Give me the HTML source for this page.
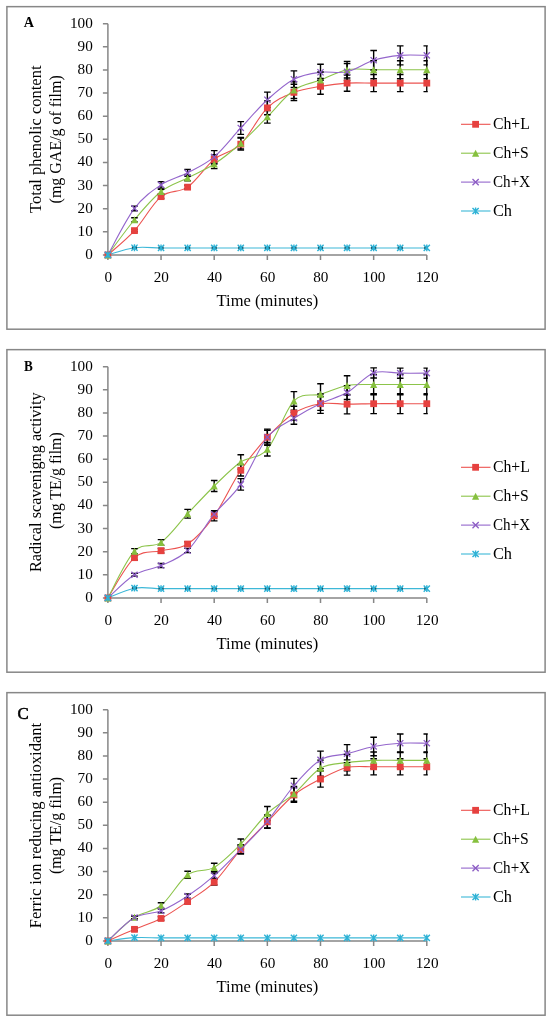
<!DOCTYPE html>
<html><head><meta charset="utf-8"><title>Antioxidant release charts</title>
<style>
html,body{margin:0;padding:0;background:#fff;}
body{width:550px;height:1020px;overflow:hidden;}
svg{display:block;}
text{font-family:"Liberation Serif",serif;fill:#000;}
svg{will-change:transform;}
</style></head><body>
<svg width="550" height="1020" viewBox="0 0 550 1020">
<defs><clipPath id="pc"><rect x="100" y="0" width="327.8" height="1020"/></clipPath></defs>

<g transform="translate(0,0)">
<rect x="6.9" y="6.65" width="538.2" height="322.55" fill="none" stroke="#878787" stroke-width="1.5"/>
<text x="23.76" y="26.8" font-size="15.15" textLength="10.24" lengthAdjust="spacingAndGlyphs" font-weight="bold">A</text>
<path d="M107.9,23.7 V254.9 M107.9,254.9 H426.8 M102.9,254.9 H107.9 M102.9,231.78 H107.9 M102.9,208.66 H107.9 M102.9,185.54 H107.9 M102.9,162.42 H107.9 M102.9,139.3 H107.9 M102.9,116.18 H107.9 M102.9,93.06 H107.9 M102.9,69.94 H107.9 M102.9,46.82 H107.9 M102.9,23.7 H107.9 M107.9,254.9 V259.9 M161.05,254.9 V259.9 M214.2,254.9 V259.9 M267.35,254.9 V259.9 M320.5,254.9 V259.9 M373.65,254.9 V259.9 M426.8,254.9 V259.9" stroke="#878787" stroke-width="1.5" fill="none"/>
<text x="92.8" y="258.9" font-size="15.2" text-anchor="end">0</text>
<text x="92.8" y="235.78" font-size="15.2" text-anchor="end">10</text>
<text x="92.8" y="212.66" font-size="15.2" text-anchor="end">20</text>
<text x="92.8" y="189.54" font-size="15.2" text-anchor="end">30</text>
<text x="92.8" y="166.42" font-size="15.2" text-anchor="end">40</text>
<text x="92.8" y="143.3" font-size="15.2" text-anchor="end">50</text>
<text x="92.8" y="120.18" font-size="15.2" text-anchor="end">60</text>
<text x="92.8" y="97.06" font-size="15.2" text-anchor="end">70</text>
<text x="92.8" y="73.94" font-size="15.2" text-anchor="end">80</text>
<text x="92.8" y="50.82" font-size="15.2" text-anchor="end">90</text>
<text x="92.8" y="27.7" font-size="15.2" text-anchor="end">100</text>
<text x="108.2" y="281.9" font-size="15.2" text-anchor="middle">0</text>
<text x="161.35" y="281.9" font-size="15.2" text-anchor="middle">20</text>
<text x="214.5" y="281.9" font-size="15.2" text-anchor="middle">40</text>
<text x="267.65" y="281.9" font-size="15.2" text-anchor="middle">60</text>
<text x="320.8" y="281.9" font-size="15.2" text-anchor="middle">80</text>
<text x="373.95" y="281.9" font-size="15.2" text-anchor="middle">100</text>
<text x="427.1" y="281.9" font-size="15.2" text-anchor="middle">120</text>
<text x="216.61" y="305.8" font-size="16.6" textLength="101.6" lengthAdjust="spacingAndGlyphs">Time (minutes)</text>
<text transform="translate(41.2,212.89) rotate(-90)" font-size="16.5" textLength="147.37" lengthAdjust="spacingAndGlyphs">Total phenolic content</text>
<text transform="translate(61.2,203.42) rotate(-90)" font-size="16.5" textLength="128.22" lengthAdjust="spacingAndGlyphs">(mg GAE/g of film)</text>
<path d="M107.9,254.9 C112.33,250.85 125.62,240.33 134.47,230.62 C143.33,220.91 152.19,203.88 161.05,196.64 C169.91,189.39 178.77,193.36 187.62,187.16 C196.48,180.95 205.34,166.58 214.2,159.41 C223.06,152.25 231.92,152.75 240.78,144.16 C249.63,135.56 258.49,116.49 267.35,107.86 C276.21,99.23 285.07,95.95 293.92,92.37 C302.78,88.78 311.64,87.9 320.5,86.36 C329.36,84.81 338.22,83.66 347.07,83.12 C355.93,82.58 364.79,83.12 373.65,83.12 C382.51,83.12 391.37,83.12 400.23,83.12 C409.08,83.12 422.37,83.12 426.8,83.12" stroke="#EC5350" stroke-width="1.1" fill="none"/>
<path d="M107.9,254.9 C112.33,249.04 125.62,230.32 134.47,219.76 C143.33,209.2 152.19,198.53 161.05,191.55 C169.91,184.58 178.77,182.5 187.62,177.91 C196.48,173.32 205.34,169.82 214.2,164.04 C223.06,158.26 231.92,151.09 240.78,143.23 C249.63,135.37 258.49,125.74 267.35,116.87 C276.21,108.01 285.07,96.18 293.92,90.05 C302.78,83.93 311.64,83.5 320.5,80.11 C329.36,76.72 338.22,71.44 347.07,69.71 C355.93,67.97 364.79,69.71 373.65,69.71 C382.51,69.71 391.37,69.71 400.23,69.71 C409.08,69.71 422.37,69.71 426.8,69.71" stroke="#8CC44A" stroke-width="1.1" fill="none"/>
<path d="M107.9,254.9 C112.33,247.15 125.62,220.1 134.47,208.43 C143.33,196.75 152.19,190.78 161.05,184.85 C169.91,178.91 178.77,177.49 187.62,172.82 C196.48,168.16 205.34,164.35 214.2,156.87 C223.06,149.4 231.92,137.49 240.78,127.97 C249.63,118.45 258.49,107.9 267.35,99.76 C276.21,91.63 285.07,83.77 293.92,79.19 C302.78,74.6 311.64,73.49 320.5,72.25 C329.36,71.02 338.22,73.79 347.07,71.79 C355.93,69.79 364.79,62.97 373.65,60.23 C382.51,57.49 391.37,56.18 400.23,55.37 C409.08,54.57 422.37,55.37 426.8,55.37" stroke="#9466CC" stroke-width="1.1" fill="none"/>
<path d="M107.9,254.9 C112.33,253.71 125.62,248.89 134.47,247.73 C143.33,246.58 152.19,247.93 161.05,247.96 C169.91,248 178.77,247.96 187.62,247.96 C196.48,247.96 205.34,247.96 214.2,247.96 C223.06,247.96 231.92,247.96 240.78,247.96 C249.63,247.96 258.49,247.96 267.35,247.96 C276.21,247.96 285.07,247.96 293.92,247.96 C302.78,247.96 311.64,247.96 320.5,247.96 C329.36,247.96 338.22,247.96 347.07,247.96 C355.93,247.96 364.79,247.96 373.65,247.96 C382.51,247.96 391.37,247.96 400.23,247.96 C409.08,247.96 422.37,247.96 426.8,247.96" stroke="#3DB8D8" stroke-width="1.1" fill="none"/>
<path d="M134.47,229.47 V231.78 M131.17,229.47 H137.78 M131.17,231.78 H137.78 M161.05,194.79 V198.49 M157.75,194.79 H164.35 M157.75,198.49 H164.35 M187.62,185.31 V189.01 M184.32,185.31 H190.93 M184.32,189.01 H190.93 M214.2,154.79 V164.04 M210.9,154.79 H217.5 M210.9,164.04 H217.5 M240.78,138.14 V150.17 M237.47,138.14 H244.08 M237.47,150.17 H244.08 M267.35,100.92 V114.79 M264.05,100.92 H270.65 M264.05,114.79 H270.65 M293.92,84.27 V100.46 M290.62,84.27 H297.22 M290.62,100.46 H297.22 M320.5,78.49 V94.22 M317.2,78.49 H323.8 M317.2,94.22 H323.8 M347.07,75.03 V91.21 M343.77,75.03 H350.38 M343.77,91.21 H350.38 M373.65,74.56 V91.67 M370.35,74.56 H376.95 M370.35,91.67 H376.95 M400.23,74.56 V91.67 M396.93,74.56 H403.53 M396.93,91.67 H403.53 M426.8,74.56 V91.67 M423.5,74.56 H430.1 M423.5,91.67 H430.1" stroke="#000" stroke-width="1.4" fill="none" clip-path="url(#pc)"/>
<path d="M134.47,217.68 V221.84 M131.17,217.68 H137.78 M131.17,221.84 H137.78 M161.05,189.24 V193.86 M157.75,189.24 H164.35 M157.75,193.86 H164.35 M187.62,175.14 V180.68 M184.32,175.14 H190.93 M184.32,180.68 H190.93 M214.2,159.41 V168.66 M210.9,159.41 H217.5 M210.9,168.66 H217.5 M240.78,137.45 V149.01 M237.47,137.45 H244.08 M237.47,149.01 H244.08 M267.35,110.63 V123.12 M264.05,110.63 H270.65 M264.05,123.12 H270.65 M293.92,81.73 V98.38 M290.62,81.73 H297.22 M290.62,98.38 H297.22 M320.5,72.02 V88.2 M317.2,72.02 H323.8 M317.2,88.2 H323.8 M347.07,61.39 V78.03 M343.77,61.39 H350.38 M343.77,78.03 H350.38 M373.65,60.69 V78.73 M370.35,60.69 H376.95 M370.35,78.73 H376.95 M400.23,60.69 V78.73 M396.93,60.69 H403.53 M396.93,78.73 H403.53 M426.8,60.69 V78.73 M423.5,60.69 H430.1 M423.5,78.73 H430.1" stroke="#000" stroke-width="1.4" fill="none" clip-path="url(#pc)"/>
<path d="M134.47,206.12 V210.74 M131.17,206.12 H137.78 M131.17,210.74 H137.78 M161.05,181.61 V188.08 M157.75,181.61 H164.35 M157.75,188.08 H164.35 M187.62,169.36 V176.29 M184.32,169.36 H190.93 M184.32,176.29 H190.93 M214.2,150.63 V163.11 M210.9,150.63 H217.5 M210.9,163.11 H217.5 M240.78,121.61 V134.33 M237.47,121.61 H244.08 M237.47,134.33 H244.08 M267.35,92.14 V107.39 M264.05,92.14 H270.65 M264.05,107.39 H270.65 M293.92,70.86 V87.51 M290.62,70.86 H297.22 M290.62,87.51 H297.22 M320.5,64.28 V80.23 M317.2,64.28 H323.8 M317.2,80.23 H323.8 M347.07,63.47 V80.11 M343.77,63.47 H350.38 M343.77,80.11 H350.38 M373.65,50.52 V69.94 M370.35,50.52 H376.95 M370.35,69.94 H376.95 M400.23,45.9 V64.85 M396.93,45.9 H403.53 M396.93,64.85 H403.53 M426.8,45.9 V64.85 M423.5,45.9 H430.1 M423.5,64.85 H430.1" stroke="#000" stroke-width="1.4" fill="none" clip-path="url(#pc)"/>
<path d="M134.47,247.04 V248.43 M131.88,247.04 H137.07 M131.88,248.43 H137.07 M161.05,247.27 V248.66 M158.45,247.27 H163.65 M158.45,248.66 H163.65 M187.62,247.27 V248.66 M185.03,247.27 H190.22 M185.03,248.66 H190.22 M214.2,247.27 V248.66 M211.6,247.27 H216.8 M211.6,248.66 H216.8 M240.78,247.27 V248.66 M238.18,247.27 H243.38 M238.18,248.66 H243.38 M267.35,247.27 V248.66 M264.75,247.27 H269.95 M264.75,248.66 H269.95 M293.92,247.27 V248.66 M291.32,247.27 H296.52 M291.32,248.66 H296.52 M320.5,247.27 V248.66 M317.9,247.27 H323.1 M317.9,248.66 H323.1 M347.07,247.27 V248.66 M344.47,247.27 H349.68 M344.47,248.66 H349.68 M373.65,247.27 V248.66 M371.05,247.27 H376.25 M371.05,248.66 H376.25 M400.23,247.27 V248.66 M397.62,247.27 H402.83 M397.62,248.66 H402.83 M426.8,247.27 V248.66 M424.2,247.27 H429.4 M424.2,248.66 H429.4" stroke="#1d5566" stroke-width="1.4" fill="none" clip-path="url(#pc)"/>
<rect x="104.5" y="251.5" width="6.8" height="6.8" fill="#E6413F"/>
<rect x="131.07" y="227.22" width="6.8" height="6.8" fill="#E6413F"/>
<rect x="157.65" y="193.24" width="6.8" height="6.8" fill="#E6413F"/>
<rect x="184.22" y="183.76" width="6.8" height="6.8" fill="#E6413F"/>
<rect x="210.8" y="156.01" width="6.8" height="6.8" fill="#E6413F"/>
<rect x="237.38" y="140.76" width="6.8" height="6.8" fill="#E6413F"/>
<rect x="263.95" y="104.46" width="6.8" height="6.8" fill="#E6413F"/>
<rect x="290.52" y="88.97" width="6.8" height="6.8" fill="#E6413F"/>
<rect x="317.1" y="82.96" width="6.8" height="6.8" fill="#E6413F"/>
<rect x="343.68" y="79.72" width="6.8" height="6.8" fill="#E6413F"/>
<rect x="370.25" y="79.72" width="6.8" height="6.8" fill="#E6413F"/>
<rect x="396.83" y="79.72" width="6.8" height="6.8" fill="#E6413F"/>
<rect x="423.4" y="79.72" width="6.8" height="6.8" fill="#E6413F"/>
<path d="M107.9,251.4 L111.5,258.4 L104.3,258.4 Z" fill="#86C03E"/>
<path d="M134.47,216.26 L138.07,223.26 L130.88,223.26 Z" fill="#86C03E"/>
<path d="M161.05,188.05 L164.65,195.05 L157.45,195.05 Z" fill="#86C03E"/>
<path d="M187.62,174.41 L191.22,181.41 L184.03,181.41 Z" fill="#86C03E"/>
<path d="M214.2,160.54 L217.8,167.54 L210.6,167.54 Z" fill="#86C03E"/>
<path d="M240.78,139.73 L244.38,146.73 L237.18,146.73 Z" fill="#86C03E"/>
<path d="M267.35,113.37 L270.95,120.37 L263.75,120.37 Z" fill="#86C03E"/>
<path d="M293.92,86.55 L297.52,93.55 L290.32,93.55 Z" fill="#86C03E"/>
<path d="M320.5,76.61 L324.1,83.61 L316.9,83.61 Z" fill="#86C03E"/>
<path d="M347.07,66.21 L350.68,73.21 L343.47,73.21 Z" fill="#86C03E"/>
<path d="M373.65,66.21 L377.25,73.21 L370.05,73.21 Z" fill="#86C03E"/>
<path d="M400.23,66.21 L403.83,73.21 L396.62,73.21 Z" fill="#86C03E"/>
<path d="M426.8,66.21 L430.4,73.21 L423.2,73.21 Z" fill="#86C03E"/>
<path d="M104.8,251.8 L111,258 M104.8,258 L111,251.8" stroke="#8C5CC4" stroke-width="1.3" fill="none"/>
<path d="M131.38,205.33 L137.57,211.53 M131.38,211.53 L137.57,205.33" stroke="#8C5CC4" stroke-width="1.3" fill="none"/>
<path d="M157.95,181.75 L164.15,187.95 M157.95,187.95 L164.15,181.75" stroke="#8C5CC4" stroke-width="1.3" fill="none"/>
<path d="M184.53,169.72 L190.72,175.92 M184.53,175.92 L190.72,169.72" stroke="#8C5CC4" stroke-width="1.3" fill="none"/>
<path d="M211.1,153.77 L217.3,159.97 M211.1,159.97 L217.3,153.77" stroke="#8C5CC4" stroke-width="1.3" fill="none"/>
<path d="M237.68,124.87 L243.88,131.07 M237.68,131.07 L243.88,124.87" stroke="#8C5CC4" stroke-width="1.3" fill="none"/>
<path d="M264.25,96.66 L270.45,102.86 M264.25,102.86 L270.45,96.66" stroke="#8C5CC4" stroke-width="1.3" fill="none"/>
<path d="M290.82,76.09 L297.02,82.29 M290.82,82.29 L297.02,76.09" stroke="#8C5CC4" stroke-width="1.3" fill="none"/>
<path d="M317.4,69.15 L323.6,75.35 M317.4,75.35 L323.6,69.15" stroke="#8C5CC4" stroke-width="1.3" fill="none"/>
<path d="M343.97,68.69 L350.18,74.89 M343.97,74.89 L350.18,68.69" stroke="#8C5CC4" stroke-width="1.3" fill="none"/>
<path d="M370.55,57.13 L376.75,63.33 M370.55,63.33 L376.75,57.13" stroke="#8C5CC4" stroke-width="1.3" fill="none"/>
<path d="M397.12,52.27 L403.33,58.47 M397.12,58.47 L403.33,52.27" stroke="#8C5CC4" stroke-width="1.3" fill="none"/>
<path d="M423.7,52.27 L429.9,58.47 M423.7,58.47 L429.9,52.27" stroke="#8C5CC4" stroke-width="1.3" fill="none"/>
<path d="M104.8,251.8 L111,258 M104.8,258 L111,251.8 M107.9,251.5 L107.9,258.3" stroke="#2DB2D6" stroke-width="1.4" fill="none"/>
<path d="M131.38,244.63 L137.57,250.83 M131.38,250.83 L137.57,244.63 M134.47,244.33 L134.47,251.13" stroke="#2DB2D6" stroke-width="1.4" fill="none"/>
<path d="M157.95,244.86 L164.15,251.06 M157.95,251.06 L164.15,244.86 M161.05,244.56 L161.05,251.36" stroke="#2DB2D6" stroke-width="1.4" fill="none"/>
<path d="M184.53,244.86 L190.72,251.06 M184.53,251.06 L190.72,244.86 M187.62,244.56 L187.62,251.36" stroke="#2DB2D6" stroke-width="1.4" fill="none"/>
<path d="M211.1,244.86 L217.3,251.06 M211.1,251.06 L217.3,244.86 M214.2,244.56 L214.2,251.36" stroke="#2DB2D6" stroke-width="1.4" fill="none"/>
<path d="M237.68,244.86 L243.88,251.06 M237.68,251.06 L243.88,244.86 M240.78,244.56 L240.78,251.36" stroke="#2DB2D6" stroke-width="1.4" fill="none"/>
<path d="M264.25,244.86 L270.45,251.06 M264.25,251.06 L270.45,244.86 M267.35,244.56 L267.35,251.36" stroke="#2DB2D6" stroke-width="1.4" fill="none"/>
<path d="M290.82,244.86 L297.02,251.06 M290.82,251.06 L297.02,244.86 M293.92,244.56 L293.92,251.36" stroke="#2DB2D6" stroke-width="1.4" fill="none"/>
<path d="M317.4,244.86 L323.6,251.06 M317.4,251.06 L323.6,244.86 M320.5,244.56 L320.5,251.36" stroke="#2DB2D6" stroke-width="1.4" fill="none"/>
<path d="M343.97,244.86 L350.18,251.06 M343.97,251.06 L350.18,244.86 M347.07,244.56 L347.07,251.36" stroke="#2DB2D6" stroke-width="1.4" fill="none"/>
<path d="M370.55,244.86 L376.75,251.06 M370.55,251.06 L376.75,244.86 M373.65,244.56 L373.65,251.36" stroke="#2DB2D6" stroke-width="1.4" fill="none"/>
<path d="M397.12,244.86 L403.33,251.06 M397.12,251.06 L403.33,244.86 M400.23,244.56 L400.23,251.36" stroke="#2DB2D6" stroke-width="1.4" fill="none"/>
<path d="M423.7,244.86 L429.9,251.06 M423.7,251.06 L429.9,244.86 M426.8,244.56 L426.8,251.36" stroke="#2DB2D6" stroke-width="1.4" fill="none"/>
<path d="M461,124.3 H490.5" stroke="#EC5350" stroke-width="1.1"/>
<rect x="472.2" y="120.9" width="6.8" height="6.8" fill="#E6413F"/>
<text x="492.97" y="128.8" font-size="16" textLength="36.8" lengthAdjust="spacingAndGlyphs">Ch+L</text>
<path d="M461,153.2 H490.5" stroke="#8CC44A" stroke-width="1.1"/>
<path d="M475.6,149.7 L479.2,156.7 L472,156.7 Z" fill="#86C03E"/>
<text x="492.97" y="157.7" font-size="16" textLength="35.8" lengthAdjust="spacingAndGlyphs">Ch+S</text>
<path d="M461,182.1 H490.5" stroke="#9466CC" stroke-width="1.1"/>
<path d="M472.5,179 L478.7,185.2 M472.5,185.2 L478.7,179" stroke="#8C5CC4" stroke-width="1.3" fill="none"/>
<text x="493" y="186.6" font-size="16" textLength="37.08" lengthAdjust="spacingAndGlyphs">Ch+X</text>
<path d="M461,211 H490.5" stroke="#3DB8D8" stroke-width="1.1"/>
<path d="M472.5,207.9 L478.7,214.1 M472.5,214.1 L478.7,207.9 M475.6,207.6 L475.6,214.4" stroke="#2DB2D6" stroke-width="1.4" fill="none"/>
<text x="492.95" y="215.5" font-size="16" textLength="19.05" lengthAdjust="spacingAndGlyphs">Ch</text>
</g>
<g transform="translate(0,343)">
<rect x="6.9" y="6.65" width="538.2" height="322.55" fill="none" stroke="#878787" stroke-width="1.5"/>
<text x="23.97" y="27.5" font-size="15.45" textLength="8.79" lengthAdjust="spacingAndGlyphs" font-weight="bold">B</text>
<path d="M107.9,23.7 V254.9 M107.9,254.9 H426.8 M102.9,254.9 H107.9 M102.9,231.78 H107.9 M102.9,208.66 H107.9 M102.9,185.54 H107.9 M102.9,162.42 H107.9 M102.9,139.3 H107.9 M102.9,116.18 H107.9 M102.9,93.06 H107.9 M102.9,69.94 H107.9 M102.9,46.82 H107.9 M102.9,23.7 H107.9 M107.9,254.9 V259.9 M161.05,254.9 V259.9 M214.2,254.9 V259.9 M267.35,254.9 V259.9 M320.5,254.9 V259.9 M373.65,254.9 V259.9 M426.8,254.9 V259.9" stroke="#878787" stroke-width="1.5" fill="none"/>
<text x="92.8" y="258.9" font-size="15.2" text-anchor="end">0</text>
<text x="92.8" y="235.78" font-size="15.2" text-anchor="end">10</text>
<text x="92.8" y="212.66" font-size="15.2" text-anchor="end">20</text>
<text x="92.8" y="189.54" font-size="15.2" text-anchor="end">30</text>
<text x="92.8" y="166.42" font-size="15.2" text-anchor="end">40</text>
<text x="92.8" y="143.3" font-size="15.2" text-anchor="end">50</text>
<text x="92.8" y="120.18" font-size="15.2" text-anchor="end">60</text>
<text x="92.8" y="97.06" font-size="15.2" text-anchor="end">70</text>
<text x="92.8" y="73.94" font-size="15.2" text-anchor="end">80</text>
<text x="92.8" y="50.82" font-size="15.2" text-anchor="end">90</text>
<text x="92.8" y="27.7" font-size="15.2" text-anchor="end">100</text>
<text x="108.2" y="281.9" font-size="15.2" text-anchor="middle">0</text>
<text x="161.35" y="281.9" font-size="15.2" text-anchor="middle">20</text>
<text x="214.5" y="281.9" font-size="15.2" text-anchor="middle">40</text>
<text x="267.65" y="281.9" font-size="15.2" text-anchor="middle">60</text>
<text x="320.8" y="281.9" font-size="15.2" text-anchor="middle">80</text>
<text x="373.95" y="281.9" font-size="15.2" text-anchor="middle">100</text>
<text x="427.1" y="281.9" font-size="15.2" text-anchor="middle">120</text>
<text x="216.61" y="305.8" font-size="16.6" textLength="101.6" lengthAdjust="spacingAndGlyphs">Time (minutes)</text>
<text transform="translate(41.2,229.09) rotate(-90)" font-size="16.5" textLength="179.76" lengthAdjust="spacingAndGlyphs">Radical scavenigng activity</text>
<text transform="translate(61.2,185.91) rotate(-90)" font-size="16.5" textLength="96.58" lengthAdjust="spacingAndGlyphs">(mg TE/g film)</text>
<path d="M107.9,254.9 C112.33,248.2 125.62,222.53 134.47,214.67 C143.33,206.81 152.19,210.01 161.05,207.74 C169.91,205.46 178.77,206.85 187.62,201.03 C196.48,195.21 205.34,185.12 214.2,172.82 C223.06,160.53 231.92,140.38 240.78,127.28 C249.63,114.18 258.49,103.73 267.35,94.22 C276.21,84.7 285.07,75.76 293.92,70.17 C302.78,64.58 311.64,62.19 320.5,60.69 C329.36,59.19 338.22,61.15 347.07,61.15 C355.93,61.15 364.79,60.77 373.65,60.69 C382.51,60.61 391.37,60.69 400.23,60.69 C409.08,60.69 422.37,60.69 426.8,60.69" stroke="#EC5350" stroke-width="1.1" fill="none"/>
<path d="M107.9,254.9 C112.33,247.12 125.62,217.45 134.47,208.2 C143.33,198.95 152.19,205.65 161.05,199.41 C169.91,193.17 178.77,180.15 187.62,170.74 C196.48,161.34 205.34,151.63 214.2,143 C223.06,134.37 231.92,125.08 240.78,118.95 C249.63,112.83 258.49,116.41 267.35,106.24 C276.21,96.07 285.07,67.09 293.92,57.92 C302.78,48.75 311.64,53.79 320.5,51.21 C329.36,48.63 338.22,44.05 347.07,42.43 C355.93,40.81 364.79,41.66 373.65,41.5 C382.51,41.35 391.37,41.5 400.23,41.5 C409.08,41.5 422.37,41.5 426.8,41.5" stroke="#8CC44A" stroke-width="1.1" fill="none"/>
<path d="M107.9,254.9 C112.33,251.05 125.62,237.17 134.47,231.78 C143.33,226.39 152.19,226.58 161.05,222.53 C169.91,218.49 178.77,216.06 187.62,207.5 C196.48,198.95 205.34,182.23 214.2,171.21 C223.06,160.19 231.92,154.21 240.78,141.38 C249.63,128.55 258.49,105.24 267.35,94.22 C276.21,83.2 285.07,80.88 293.92,75.26 C302.78,69.63 311.64,64.74 320.5,60.46 C329.36,56.18 338.22,54.68 347.07,49.59 C355.93,44.51 364.79,33.18 373.65,29.94 C382.51,26.71 391.37,30.14 400.23,30.17 C409.08,30.21 422.37,30.17 426.8,30.17" stroke="#9466CC" stroke-width="1.1" fill="none"/>
<path d="M107.9,254.9 C112.33,253.28 125.62,246.73 134.47,245.19 C143.33,243.65 152.19,245.57 161.05,245.65 C169.91,245.73 178.77,245.65 187.62,245.65 C196.48,245.65 205.34,245.65 214.2,245.65 C223.06,245.65 231.92,245.65 240.78,245.65 C249.63,245.65 258.49,245.65 267.35,245.65 C276.21,245.65 285.07,245.65 293.92,245.65 C302.78,245.65 311.64,245.65 320.5,245.65 C329.36,245.65 338.22,245.65 347.07,245.65 C355.93,245.65 364.79,245.65 373.65,245.65 C382.51,245.65 391.37,245.65 400.23,245.65 C409.08,245.65 422.37,245.65 426.8,245.65" stroke="#3DB8D8" stroke-width="1.1" fill="none"/>
<path d="M134.47,212.36 V216.98 M131.17,212.36 H137.78 M131.17,216.98 H137.78 M161.05,205.42 V210.05 M157.75,205.42 H164.35 M157.75,210.05 H164.35 M187.62,198.72 V203.34 M184.32,198.72 H190.93 M184.32,203.34 H190.93 M214.2,167.74 V177.91 M210.9,167.74 H217.5 M210.9,177.91 H217.5 M240.78,121.5 V133.06 M237.47,121.5 H244.08 M237.47,133.06 H244.08 M267.35,86.12 V102.31 M264.05,86.12 H270.65 M264.05,102.31 H270.65 M293.92,63.24 V77.11 M290.62,63.24 H297.22 M290.62,77.11 H297.22 M320.5,50.98 V70.4 M317.2,50.98 H323.8 M317.2,70.4 H323.8 M347.07,51.44 V70.86 M343.77,51.44 H350.38 M343.77,70.86 H350.38 M373.65,50.75 V70.63 M370.35,50.75 H376.95 M370.35,70.63 H376.95 M400.23,50.75 V70.63 M396.93,50.75 H403.53 M396.93,70.63 H403.53 M426.8,50.75 V70.63 M423.5,50.75 H430.1 M423.5,70.63 H430.1" stroke="#000" stroke-width="1.4" fill="none" clip-path="url(#pc)"/>
<path d="M134.47,205.65 V210.74 M131.17,205.65 H137.78 M131.17,210.74 H137.78 M161.05,196.64 V202.19 M157.75,196.64 H164.35 M157.75,202.19 H164.35 M187.62,166.35 V175.14 M184.32,166.35 H190.93 M184.32,175.14 H190.93 M214.2,137.45 V148.55 M210.9,137.45 H217.5 M210.9,148.55 H217.5 M240.78,111.79 V126.12 M237.47,111.79 H244.08 M237.47,126.12 H244.08 M267.35,99.53 V112.94 M264.05,99.53 H270.65 M264.05,112.94 H270.65 M293.92,48.67 V67.17 M290.62,48.67 H297.22 M290.62,67.17 H297.22 M320.5,40.81 V61.62 M317.2,40.81 H323.8 M317.2,61.62 H323.8 M347.07,32.72 V52.14 M343.77,32.72 H350.38 M343.77,52.14 H350.38 M373.65,31.33 V51.68 M370.35,31.33 H376.95 M370.35,51.68 H376.95 M400.23,31.33 V51.68 M396.93,31.33 H403.53 M396.93,51.68 H403.53 M426.8,31.33 V51.68 M423.5,31.33 H430.1 M423.5,51.68 H430.1" stroke="#000" stroke-width="1.4" fill="none" clip-path="url(#pc)"/>
<path d="M134.47,230.39 V233.17 M131.17,230.39 H137.78 M131.17,233.17 H137.78 M161.05,220.45 V224.61 M157.75,220.45 H164.35 M157.75,224.61 H164.35 M187.62,205.42 V209.58 M184.32,205.42 H190.93 M184.32,209.58 H190.93 M214.2,168.89 V173.52 M210.9,168.89 H217.5 M210.9,173.52 H217.5 M240.78,135.6 V147.16 M237.47,135.6 H244.08 M237.47,147.16 H244.08 M267.35,87.28 V101.15 M264.05,87.28 H270.65 M264.05,101.15 H270.65 M293.92,69.25 V81.27 M290.62,69.25 H297.22 M290.62,81.27 H297.22 M320.5,53.52 V67.4 M317.2,53.52 H323.8 M317.2,67.4 H323.8 M347.07,42.66 V56.53 M343.77,42.66 H350.38 M343.77,56.53 H350.38 M373.65,24.86 V35.03 M370.35,24.86 H376.95 M370.35,35.03 H376.95 M400.23,25.09 V35.26 M396.93,25.09 H403.53 M396.93,35.26 H403.53 M426.8,25.09 V35.26 M423.5,25.09 H430.1 M423.5,35.26 H430.1" stroke="#000" stroke-width="1.4" fill="none" clip-path="url(#pc)"/>
<path d="M134.47,244.5 V245.88 M131.88,244.5 H137.07 M131.88,245.88 H137.07 M161.05,244.96 V246.35 M158.45,244.96 H163.65 M158.45,246.35 H163.65 M187.62,244.96 V246.35 M185.03,244.96 H190.22 M185.03,246.35 H190.22 M214.2,244.96 V246.35 M211.6,244.96 H216.8 M211.6,246.35 H216.8 M240.78,244.96 V246.35 M238.18,244.96 H243.38 M238.18,246.35 H243.38 M267.35,244.96 V246.35 M264.75,244.96 H269.95 M264.75,246.35 H269.95 M293.92,244.96 V246.35 M291.32,244.96 H296.52 M291.32,246.35 H296.52 M320.5,244.96 V246.35 M317.9,244.96 H323.1 M317.9,246.35 H323.1 M347.07,244.96 V246.35 M344.47,244.96 H349.68 M344.47,246.35 H349.68 M373.65,244.96 V246.35 M371.05,244.96 H376.25 M371.05,246.35 H376.25 M400.23,244.96 V246.35 M397.62,244.96 H402.83 M397.62,246.35 H402.83 M426.8,244.96 V246.35 M424.2,244.96 H429.4 M424.2,246.35 H429.4" stroke="#1d5566" stroke-width="1.4" fill="none" clip-path="url(#pc)"/>
<rect x="104.5" y="251.5" width="6.8" height="6.8" fill="#E6413F"/>
<rect x="131.07" y="211.27" width="6.8" height="6.8" fill="#E6413F"/>
<rect x="157.65" y="204.34" width="6.8" height="6.8" fill="#E6413F"/>
<rect x="184.22" y="197.63" width="6.8" height="6.8" fill="#E6413F"/>
<rect x="210.8" y="169.42" width="6.8" height="6.8" fill="#E6413F"/>
<rect x="237.38" y="123.88" width="6.8" height="6.8" fill="#E6413F"/>
<rect x="263.95" y="90.82" width="6.8" height="6.8" fill="#E6413F"/>
<rect x="290.52" y="66.77" width="6.8" height="6.8" fill="#E6413F"/>
<rect x="317.1" y="57.29" width="6.8" height="6.8" fill="#E6413F"/>
<rect x="343.68" y="57.75" width="6.8" height="6.8" fill="#E6413F"/>
<rect x="370.25" y="57.29" width="6.8" height="6.8" fill="#E6413F"/>
<rect x="396.83" y="57.29" width="6.8" height="6.8" fill="#E6413F"/>
<rect x="423.4" y="57.29" width="6.8" height="6.8" fill="#E6413F"/>
<path d="M107.9,251.4 L111.5,258.4 L104.3,258.4 Z" fill="#86C03E"/>
<path d="M134.47,204.7 L138.07,211.7 L130.88,211.7 Z" fill="#86C03E"/>
<path d="M161.05,195.91 L164.65,202.91 L157.45,202.91 Z" fill="#86C03E"/>
<path d="M187.62,167.24 L191.22,174.24 L184.03,174.24 Z" fill="#86C03E"/>
<path d="M214.2,139.5 L217.8,146.5 L210.6,146.5 Z" fill="#86C03E"/>
<path d="M240.78,115.45 L244.38,122.45 L237.18,122.45 Z" fill="#86C03E"/>
<path d="M267.35,102.74 L270.95,109.74 L263.75,109.74 Z" fill="#86C03E"/>
<path d="M293.92,54.42 L297.52,61.42 L290.32,61.42 Z" fill="#86C03E"/>
<path d="M320.5,47.71 L324.1,54.71 L316.9,54.71 Z" fill="#86C03E"/>
<path d="M347.07,38.93 L350.68,45.93 L343.47,45.93 Z" fill="#86C03E"/>
<path d="M373.65,38 L377.25,45 L370.05,45 Z" fill="#86C03E"/>
<path d="M400.23,38 L403.83,45 L396.62,45 Z" fill="#86C03E"/>
<path d="M426.8,38 L430.4,45 L423.2,45 Z" fill="#86C03E"/>
<path d="M104.8,251.8 L111,258 M104.8,258 L111,251.8" stroke="#8C5CC4" stroke-width="1.3" fill="none"/>
<path d="M131.38,228.68 L137.57,234.88 M131.38,234.88 L137.57,228.68" stroke="#8C5CC4" stroke-width="1.3" fill="none"/>
<path d="M157.95,219.43 L164.15,225.63 M157.95,225.63 L164.15,219.43" stroke="#8C5CC4" stroke-width="1.3" fill="none"/>
<path d="M184.53,204.4 L190.72,210.6 M184.53,210.6 L190.72,204.4" stroke="#8C5CC4" stroke-width="1.3" fill="none"/>
<path d="M211.1,168.11 L217.3,174.31 M211.1,174.31 L217.3,168.11" stroke="#8C5CC4" stroke-width="1.3" fill="none"/>
<path d="M237.68,138.28 L243.88,144.48 M237.68,144.48 L243.88,138.28" stroke="#8C5CC4" stroke-width="1.3" fill="none"/>
<path d="M264.25,91.12 L270.45,97.32 M264.25,97.32 L270.45,91.12" stroke="#8C5CC4" stroke-width="1.3" fill="none"/>
<path d="M290.82,72.16 L297.02,78.36 M290.82,78.36 L297.02,72.16" stroke="#8C5CC4" stroke-width="1.3" fill="none"/>
<path d="M317.4,57.36 L323.6,63.56 M317.4,63.56 L323.6,57.36" stroke="#8C5CC4" stroke-width="1.3" fill="none"/>
<path d="M343.97,46.49 L350.18,52.69 M343.97,52.69 L350.18,46.49" stroke="#8C5CC4" stroke-width="1.3" fill="none"/>
<path d="M370.55,26.84 L376.75,33.04 M370.55,33.04 L376.75,26.84" stroke="#8C5CC4" stroke-width="1.3" fill="none"/>
<path d="M397.12,27.07 L403.33,33.27 M397.12,33.27 L403.33,27.07" stroke="#8C5CC4" stroke-width="1.3" fill="none"/>
<path d="M423.7,27.07 L429.9,33.27 M423.7,33.27 L429.9,27.07" stroke="#8C5CC4" stroke-width="1.3" fill="none"/>
<path d="M104.8,251.8 L111,258 M104.8,258 L111,251.8 M107.9,251.5 L107.9,258.3" stroke="#2DB2D6" stroke-width="1.4" fill="none"/>
<path d="M131.38,242.09 L137.57,248.29 M131.38,248.29 L137.57,242.09 M134.47,241.79 L134.47,248.59" stroke="#2DB2D6" stroke-width="1.4" fill="none"/>
<path d="M157.95,242.55 L164.15,248.75 M157.95,248.75 L164.15,242.55 M161.05,242.25 L161.05,249.05" stroke="#2DB2D6" stroke-width="1.4" fill="none"/>
<path d="M184.53,242.55 L190.72,248.75 M184.53,248.75 L190.72,242.55 M187.62,242.25 L187.62,249.05" stroke="#2DB2D6" stroke-width="1.4" fill="none"/>
<path d="M211.1,242.55 L217.3,248.75 M211.1,248.75 L217.3,242.55 M214.2,242.25 L214.2,249.05" stroke="#2DB2D6" stroke-width="1.4" fill="none"/>
<path d="M237.68,242.55 L243.88,248.75 M237.68,248.75 L243.88,242.55 M240.78,242.25 L240.78,249.05" stroke="#2DB2D6" stroke-width="1.4" fill="none"/>
<path d="M264.25,242.55 L270.45,248.75 M264.25,248.75 L270.45,242.55 M267.35,242.25 L267.35,249.05" stroke="#2DB2D6" stroke-width="1.4" fill="none"/>
<path d="M290.82,242.55 L297.02,248.75 M290.82,248.75 L297.02,242.55 M293.92,242.25 L293.92,249.05" stroke="#2DB2D6" stroke-width="1.4" fill="none"/>
<path d="M317.4,242.55 L323.6,248.75 M317.4,248.75 L323.6,242.55 M320.5,242.25 L320.5,249.05" stroke="#2DB2D6" stroke-width="1.4" fill="none"/>
<path d="M343.97,242.55 L350.18,248.75 M343.97,248.75 L350.18,242.55 M347.07,242.25 L347.07,249.05" stroke="#2DB2D6" stroke-width="1.4" fill="none"/>
<path d="M370.55,242.55 L376.75,248.75 M370.55,248.75 L376.75,242.55 M373.65,242.25 L373.65,249.05" stroke="#2DB2D6" stroke-width="1.4" fill="none"/>
<path d="M397.12,242.55 L403.33,248.75 M397.12,248.75 L403.33,242.55 M400.23,242.25 L400.23,249.05" stroke="#2DB2D6" stroke-width="1.4" fill="none"/>
<path d="M423.7,242.55 L429.9,248.75 M423.7,248.75 L429.9,242.55 M426.8,242.25 L426.8,249.05" stroke="#2DB2D6" stroke-width="1.4" fill="none"/>
<path d="M461,124.3 H490.5" stroke="#EC5350" stroke-width="1.1"/>
<rect x="472.2" y="120.9" width="6.8" height="6.8" fill="#E6413F"/>
<text x="492.97" y="128.8" font-size="16" textLength="36.8" lengthAdjust="spacingAndGlyphs">Ch+L</text>
<path d="M461,153.2 H490.5" stroke="#8CC44A" stroke-width="1.1"/>
<path d="M475.6,149.7 L479.2,156.7 L472,156.7 Z" fill="#86C03E"/>
<text x="492.97" y="157.7" font-size="16" textLength="35.8" lengthAdjust="spacingAndGlyphs">Ch+S</text>
<path d="M461,182.1 H490.5" stroke="#9466CC" stroke-width="1.1"/>
<path d="M472.5,179 L478.7,185.2 M472.5,185.2 L478.7,179" stroke="#8C5CC4" stroke-width="1.3" fill="none"/>
<text x="493" y="186.6" font-size="16" textLength="37.08" lengthAdjust="spacingAndGlyphs">Ch+X</text>
<path d="M461,211 H490.5" stroke="#3DB8D8" stroke-width="1.1"/>
<path d="M472.5,207.9 L478.7,214.1 M472.5,214.1 L478.7,207.9 M475.6,207.6 L475.6,214.4" stroke="#2DB2D6" stroke-width="1.4" fill="none"/>
<text x="492.95" y="215.5" font-size="16" textLength="19.05" lengthAdjust="spacingAndGlyphs">Ch</text>
</g>
<g transform="translate(0,686)">
<rect x="6.9" y="6.65" width="538.2" height="322.55" fill="none" stroke="#878787" stroke-width="1.5"/>
<text x="17.63" y="33.14" font-size="15.76" textLength="11.18" lengthAdjust="spacingAndGlyphs" stroke="#000" stroke-width="0.55">C</text>
<path d="M107.9,23.7 V254.9 M107.9,254.9 H426.8 M102.9,254.9 H107.9 M102.9,231.78 H107.9 M102.9,208.66 H107.9 M102.9,185.54 H107.9 M102.9,162.42 H107.9 M102.9,139.3 H107.9 M102.9,116.18 H107.9 M102.9,93.06 H107.9 M102.9,69.94 H107.9 M102.9,46.82 H107.9 M102.9,23.7 H107.9 M107.9,254.9 V259.9 M161.05,254.9 V259.9 M214.2,254.9 V259.9 M267.35,254.9 V259.9 M320.5,254.9 V259.9 M373.65,254.9 V259.9 M426.8,254.9 V259.9" stroke="#878787" stroke-width="1.5" fill="none"/>
<text x="92.8" y="258.9" font-size="15.2" text-anchor="end">0</text>
<text x="92.8" y="235.78" font-size="15.2" text-anchor="end">10</text>
<text x="92.8" y="212.66" font-size="15.2" text-anchor="end">20</text>
<text x="92.8" y="189.54" font-size="15.2" text-anchor="end">30</text>
<text x="92.8" y="166.42" font-size="15.2" text-anchor="end">40</text>
<text x="92.8" y="143.3" font-size="15.2" text-anchor="end">50</text>
<text x="92.8" y="120.18" font-size="15.2" text-anchor="end">60</text>
<text x="92.8" y="97.06" font-size="15.2" text-anchor="end">70</text>
<text x="92.8" y="73.94" font-size="15.2" text-anchor="end">80</text>
<text x="92.8" y="50.82" font-size="15.2" text-anchor="end">90</text>
<text x="92.8" y="27.7" font-size="15.2" text-anchor="end">100</text>
<text x="108.2" y="281.9" font-size="15.2" text-anchor="middle">0</text>
<text x="161.35" y="281.9" font-size="15.2" text-anchor="middle">20</text>
<text x="214.5" y="281.9" font-size="15.2" text-anchor="middle">40</text>
<text x="267.65" y="281.9" font-size="15.2" text-anchor="middle">60</text>
<text x="320.8" y="281.9" font-size="15.2" text-anchor="middle">80</text>
<text x="373.95" y="281.9" font-size="15.2" text-anchor="middle">100</text>
<text x="427.1" y="281.9" font-size="15.2" text-anchor="middle">120</text>
<text x="216.61" y="305.8" font-size="16.6" textLength="101.6" lengthAdjust="spacingAndGlyphs">Time (minutes)</text>
<text transform="translate(41.2,242.3) rotate(-90)" font-size="16.5" textLength="205.49" lengthAdjust="spacingAndGlyphs">Ferric ion reducing antioxidant</text>
<text transform="translate(61.2,188.12) rotate(-90)" font-size="16.5" textLength="97.29" lengthAdjust="spacingAndGlyphs">(mg TE/g film)</text>
<path d="M107.9,254.9 C112.33,252.97 125.62,247.08 134.47,243.34 C143.33,239.6 152.19,237.1 161.05,232.47 C169.91,227.85 178.77,221.65 187.62,215.6 C196.48,209.55 205.34,204.88 214.2,196.18 C223.06,187.47 231.92,173.4 240.78,163.34 C249.63,153.29 258.49,144.89 267.35,135.83 C276.21,126.78 285.07,116.14 293.92,109.01 C302.78,101.88 311.64,97.65 320.5,93.06 C329.36,88.47 338.22,83.54 347.07,81.5 C355.93,79.46 364.79,80.92 373.65,80.81 C382.51,80.69 391.37,80.81 400.23,80.81 C409.08,80.81 422.37,80.81 426.8,80.81" stroke="#EC5350" stroke-width="1.1" fill="none"/>
<path d="M107.9,254.9 C112.33,250.97 125.62,237.21 134.47,231.32 C143.33,225.42 152.19,226.62 161.05,219.53 C169.91,212.44 178.77,195.13 187.62,188.78 C196.48,182.42 205.34,186.5 214.2,181.38 C223.06,176.25 231.92,167.01 240.78,158.03 C249.63,149.05 258.49,135.87 267.35,127.51 C276.21,119.15 285.07,115.41 293.92,107.86 C302.78,100.3 311.64,87.4 320.5,82.19 C329.36,76.99 338.22,77.95 347.07,76.64 C355.93,75.33 364.79,74.72 373.65,74.33 C382.51,73.95 391.37,74.33 400.23,74.33 C409.08,74.33 422.37,74.33 426.8,74.33" stroke="#8CC44A" stroke-width="1.1" fill="none"/>
<path d="M107.9,254.9 C112.33,251.01 125.62,236.56 134.47,231.55 C143.33,226.54 152.19,228.43 161.05,224.84 C169.91,221.26 178.77,215.9 187.62,210.05 C196.48,204.19 205.34,197.49 214.2,189.7 C223.06,181.92 231.92,172.4 240.78,163.34 C249.63,154.29 258.49,145.97 267.35,135.37 C276.21,124.77 285.07,110.01 293.92,99.76 C302.78,89.51 311.64,79.23 320.5,73.87 C329.36,68.51 338.22,69.86 347.07,67.63 C355.93,65.39 364.79,62.19 373.65,60.46 C382.51,58.73 391.37,57.76 400.23,57.22 C409.08,56.68 422.37,57.22 426.8,57.22" stroke="#9466CC" stroke-width="1.1" fill="none"/>
<path d="M107.9,254.9 C112.33,254.36 125.62,252.16 134.47,251.66 C143.33,251.16 152.19,251.86 161.05,251.89 C169.91,251.93 178.77,251.89 187.62,251.89 C196.48,251.89 205.34,251.89 214.2,251.89 C223.06,251.89 231.92,251.89 240.78,251.89 C249.63,251.89 258.49,251.89 267.35,251.89 C276.21,251.89 285.07,251.89 293.92,251.89 C302.78,251.89 311.64,251.89 320.5,251.89 C329.36,251.89 338.22,251.89 347.07,251.89 C355.93,251.89 364.79,251.89 373.65,251.89 C382.51,251.89 391.37,251.89 400.23,251.89 C409.08,251.89 422.37,251.89 426.8,251.89" stroke="#3DB8D8" stroke-width="1.1" fill="none"/>
<path d="M134.47,241.95 V244.73 M131.17,241.95 H137.78 M131.17,244.73 H137.78 M161.05,230.62 V234.32 M157.75,230.62 H164.35 M157.75,234.32 H164.35 M187.62,213.28 V217.91 M184.32,213.28 H190.93 M184.32,217.91 H190.93 M214.2,193.4 V198.95 M210.9,193.4 H217.5 M210.9,198.95 H217.5 M240.78,158.95 V167.74 M237.47,158.95 H244.08 M237.47,167.74 H244.08 M267.35,129.36 V142.31 M264.05,129.36 H270.65 M264.05,142.31 H270.65 M293.92,101.61 V116.41 M290.62,101.61 H297.22 M290.62,116.41 H297.22 M320.5,84.97 V101.15 M317.2,84.97 H323.8 M317.2,101.15 H323.8 M347.07,73.87 V89.13 M343.77,73.87 H350.38 M343.77,89.13 H350.38 M373.65,72.71 V88.9 M370.35,72.71 H376.95 M370.35,88.9 H376.95 M400.23,72.71 V88.9 M396.93,72.71 H403.53 M396.93,88.9 H403.53 M426.8,72.71 V88.9 M423.5,72.71 H430.1 M423.5,88.9 H430.1" stroke="#000" stroke-width="1.4" fill="none" clip-path="url(#pc)"/>
<path d="M134.47,229.93 V232.7 M131.17,229.93 H137.78 M131.17,232.7 H137.78 M161.05,216.75 V222.3 M157.75,216.75 H164.35 M157.75,222.3 H164.35 M187.62,185.31 V192.24 M184.32,185.31 H190.93 M184.32,192.24 H190.93 M214.2,177.22 V185.54 M210.9,177.22 H217.5 M210.9,185.54 H217.5 M240.78,152.94 V163.11 M237.47,152.94 H244.08 M237.47,163.11 H244.08 M267.35,120.57 V134.44 M264.05,120.57 H270.65 M264.05,134.44 H270.65 M293.92,100.46 V115.26 M290.62,100.46 H297.22 M290.62,115.26 H297.22 M320.5,74.1 V90.29 M317.2,74.1 H323.8 M317.2,90.29 H323.8 M347.07,68.55 V84.74 M343.77,68.55 H350.38 M343.77,84.74 H350.38 M373.65,66.01 V82.66 M370.35,66.01 H376.95 M370.35,82.66 H376.95 M400.23,66.01 V82.66 M396.93,66.01 H403.53 M396.93,82.66 H403.53 M426.8,66.01 V82.66 M423.5,66.01 H430.1 M423.5,82.66 H430.1" stroke="#000" stroke-width="1.4" fill="none" clip-path="url(#pc)"/>
<path d="M134.47,230.16 V232.94 M131.17,230.16 H137.78 M131.17,232.94 H137.78 M161.05,222.99 V226.69 M157.75,222.99 H164.35 M157.75,226.69 H164.35 M187.62,207.97 V212.13 M184.32,207.97 H190.93 M184.32,212.13 H190.93 M214.2,186.93 V192.48 M210.9,186.93 H217.5 M210.9,192.48 H217.5 M240.78,158.95 V167.74 M237.47,158.95 H244.08 M237.47,167.74 H244.08 M267.35,128.9 V141.84 M264.05,128.9 H270.65 M264.05,141.84 H270.65 M293.92,92.37 V107.16 M290.62,92.37 H297.22 M290.62,107.16 H297.22 M320.5,65.08 V82.66 M317.2,65.08 H323.8 M317.2,82.66 H323.8 M347.07,58.61 V76.64 M343.77,58.61 H350.38 M343.77,76.64 H350.38 M373.65,51.21 V69.71 M370.35,51.21 H376.95 M370.35,69.71 H376.95 M400.23,47.98 V66.47 M396.93,47.98 H403.53 M396.93,66.47 H403.53 M426.8,47.98 V66.47 M423.5,47.98 H430.1 M423.5,66.47 H430.1" stroke="#000" stroke-width="1.4" fill="none" clip-path="url(#pc)"/>
<rect x="104.5" y="251.5" width="6.8" height="6.8" fill="#E6413F"/>
<rect x="131.07" y="239.94" width="6.8" height="6.8" fill="#E6413F"/>
<rect x="157.65" y="229.07" width="6.8" height="6.8" fill="#E6413F"/>
<rect x="184.22" y="212.2" width="6.8" height="6.8" fill="#E6413F"/>
<rect x="210.8" y="192.78" width="6.8" height="6.8" fill="#E6413F"/>
<rect x="237.38" y="159.94" width="6.8" height="6.8" fill="#E6413F"/>
<rect x="263.95" y="132.43" width="6.8" height="6.8" fill="#E6413F"/>
<rect x="290.52" y="105.61" width="6.8" height="6.8" fill="#E6413F"/>
<rect x="317.1" y="89.66" width="6.8" height="6.8" fill="#E6413F"/>
<rect x="343.68" y="78.1" width="6.8" height="6.8" fill="#E6413F"/>
<rect x="370.25" y="77.41" width="6.8" height="6.8" fill="#E6413F"/>
<rect x="396.83" y="77.41" width="6.8" height="6.8" fill="#E6413F"/>
<rect x="423.4" y="77.41" width="6.8" height="6.8" fill="#E6413F"/>
<path d="M107.9,251.4 L111.5,258.4 L104.3,258.4 Z" fill="#86C03E"/>
<path d="M134.47,227.82 L138.07,234.82 L130.88,234.82 Z" fill="#86C03E"/>
<path d="M161.05,216.03 L164.65,223.03 L157.45,223.03 Z" fill="#86C03E"/>
<path d="M187.62,185.28 L191.22,192.28 L184.03,192.28 Z" fill="#86C03E"/>
<path d="M214.2,177.88 L217.8,184.88 L210.6,184.88 Z" fill="#86C03E"/>
<path d="M240.78,154.53 L244.38,161.53 L237.18,161.53 Z" fill="#86C03E"/>
<path d="M267.35,124.01 L270.95,131.01 L263.75,131.01 Z" fill="#86C03E"/>
<path d="M293.92,104.36 L297.52,111.36 L290.32,111.36 Z" fill="#86C03E"/>
<path d="M320.5,78.69 L324.1,85.69 L316.9,85.69 Z" fill="#86C03E"/>
<path d="M347.07,73.14 L350.68,80.14 L343.47,80.14 Z" fill="#86C03E"/>
<path d="M373.65,70.83 L377.25,77.83 L370.05,77.83 Z" fill="#86C03E"/>
<path d="M400.23,70.83 L403.83,77.83 L396.62,77.83 Z" fill="#86C03E"/>
<path d="M426.8,70.83 L430.4,77.83 L423.2,77.83 Z" fill="#86C03E"/>
<path d="M104.8,251.8 L111,258 M104.8,258 L111,251.8" stroke="#8C5CC4" stroke-width="1.3" fill="none"/>
<path d="M131.38,228.45 L137.57,234.65 M131.38,234.65 L137.57,228.45" stroke="#8C5CC4" stroke-width="1.3" fill="none"/>
<path d="M157.95,221.74 L164.15,227.94 M157.95,227.94 L164.15,221.74" stroke="#8C5CC4" stroke-width="1.3" fill="none"/>
<path d="M184.53,206.95 L190.72,213.15 M184.53,213.15 L190.72,206.95" stroke="#8C5CC4" stroke-width="1.3" fill="none"/>
<path d="M211.1,186.6 L217.3,192.8 M211.1,192.8 L217.3,186.6" stroke="#8C5CC4" stroke-width="1.3" fill="none"/>
<path d="M237.68,160.24 L243.88,166.44 M237.68,166.44 L243.88,160.24" stroke="#8C5CC4" stroke-width="1.3" fill="none"/>
<path d="M264.25,132.27 L270.45,138.47 M264.25,138.47 L270.45,132.27" stroke="#8C5CC4" stroke-width="1.3" fill="none"/>
<path d="M290.82,96.66 L297.02,102.86 M290.82,102.86 L297.02,96.66" stroke="#8C5CC4" stroke-width="1.3" fill="none"/>
<path d="M317.4,70.77 L323.6,76.97 M317.4,76.97 L323.6,70.77" stroke="#8C5CC4" stroke-width="1.3" fill="none"/>
<path d="M343.97,64.53 L350.18,70.73 M343.97,70.73 L350.18,64.53" stroke="#8C5CC4" stroke-width="1.3" fill="none"/>
<path d="M370.55,57.36 L376.75,63.56 M370.55,63.56 L376.75,57.36" stroke="#8C5CC4" stroke-width="1.3" fill="none"/>
<path d="M397.12,54.12 L403.33,60.32 M397.12,60.32 L403.33,54.12" stroke="#8C5CC4" stroke-width="1.3" fill="none"/>
<path d="M423.7,54.12 L429.9,60.32 M423.7,60.32 L429.9,54.12" stroke="#8C5CC4" stroke-width="1.3" fill="none"/>
<path d="M104.8,251.8 L111,258 M104.8,258 L111,251.8 M107.9,251.5 L107.9,258.3" stroke="#2DB2D6" stroke-width="1.4" fill="none"/>
<path d="M131.38,248.56 L137.57,254.76 M131.38,254.76 L137.57,248.56 M134.47,248.26 L134.47,255.06" stroke="#2DB2D6" stroke-width="1.4" fill="none"/>
<path d="M157.95,248.79 L164.15,254.99 M157.95,254.99 L164.15,248.79 M161.05,248.49 L161.05,255.29" stroke="#2DB2D6" stroke-width="1.4" fill="none"/>
<path d="M184.53,248.79 L190.72,254.99 M184.53,254.99 L190.72,248.79 M187.62,248.49 L187.62,255.29" stroke="#2DB2D6" stroke-width="1.4" fill="none"/>
<path d="M211.1,248.79 L217.3,254.99 M211.1,254.99 L217.3,248.79 M214.2,248.49 L214.2,255.29" stroke="#2DB2D6" stroke-width="1.4" fill="none"/>
<path d="M237.68,248.79 L243.88,254.99 M237.68,254.99 L243.88,248.79 M240.78,248.49 L240.78,255.29" stroke="#2DB2D6" stroke-width="1.4" fill="none"/>
<path d="M264.25,248.79 L270.45,254.99 M264.25,254.99 L270.45,248.79 M267.35,248.49 L267.35,255.29" stroke="#2DB2D6" stroke-width="1.4" fill="none"/>
<path d="M290.82,248.79 L297.02,254.99 M290.82,254.99 L297.02,248.79 M293.92,248.49 L293.92,255.29" stroke="#2DB2D6" stroke-width="1.4" fill="none"/>
<path d="M317.4,248.79 L323.6,254.99 M317.4,254.99 L323.6,248.79 M320.5,248.49 L320.5,255.29" stroke="#2DB2D6" stroke-width="1.4" fill="none"/>
<path d="M343.97,248.79 L350.18,254.99 M343.97,254.99 L350.18,248.79 M347.07,248.49 L347.07,255.29" stroke="#2DB2D6" stroke-width="1.4" fill="none"/>
<path d="M370.55,248.79 L376.75,254.99 M370.55,254.99 L376.75,248.79 M373.65,248.49 L373.65,255.29" stroke="#2DB2D6" stroke-width="1.4" fill="none"/>
<path d="M397.12,248.79 L403.33,254.99 M397.12,254.99 L403.33,248.79 M400.23,248.49 L400.23,255.29" stroke="#2DB2D6" stroke-width="1.4" fill="none"/>
<path d="M423.7,248.79 L429.9,254.99 M423.7,254.99 L429.9,248.79 M426.8,248.49 L426.8,255.29" stroke="#2DB2D6" stroke-width="1.4" fill="none"/>
<path d="M461,124.3 H490.5" stroke="#EC5350" stroke-width="1.1"/>
<rect x="472.2" y="120.9" width="6.8" height="6.8" fill="#E6413F"/>
<text x="492.97" y="128.8" font-size="16" textLength="36.8" lengthAdjust="spacingAndGlyphs">Ch+L</text>
<path d="M461,153.2 H490.5" stroke="#8CC44A" stroke-width="1.1"/>
<path d="M475.6,149.7 L479.2,156.7 L472,156.7 Z" fill="#86C03E"/>
<text x="492.97" y="157.7" font-size="16" textLength="35.8" lengthAdjust="spacingAndGlyphs">Ch+S</text>
<path d="M461,182.1 H490.5" stroke="#9466CC" stroke-width="1.1"/>
<path d="M472.5,179 L478.7,185.2 M472.5,185.2 L478.7,179" stroke="#8C5CC4" stroke-width="1.3" fill="none"/>
<text x="493" y="186.6" font-size="16" textLength="37.08" lengthAdjust="spacingAndGlyphs">Ch+X</text>
<path d="M461,211 H490.5" stroke="#3DB8D8" stroke-width="1.1"/>
<path d="M472.5,207.9 L478.7,214.1 M472.5,214.1 L478.7,207.9 M475.6,207.6 L475.6,214.4" stroke="#2DB2D6" stroke-width="1.4" fill="none"/>
<text x="492.95" y="215.5" font-size="16" textLength="19.05" lengthAdjust="spacingAndGlyphs">Ch</text>
</g>
</svg>
</body></html>
